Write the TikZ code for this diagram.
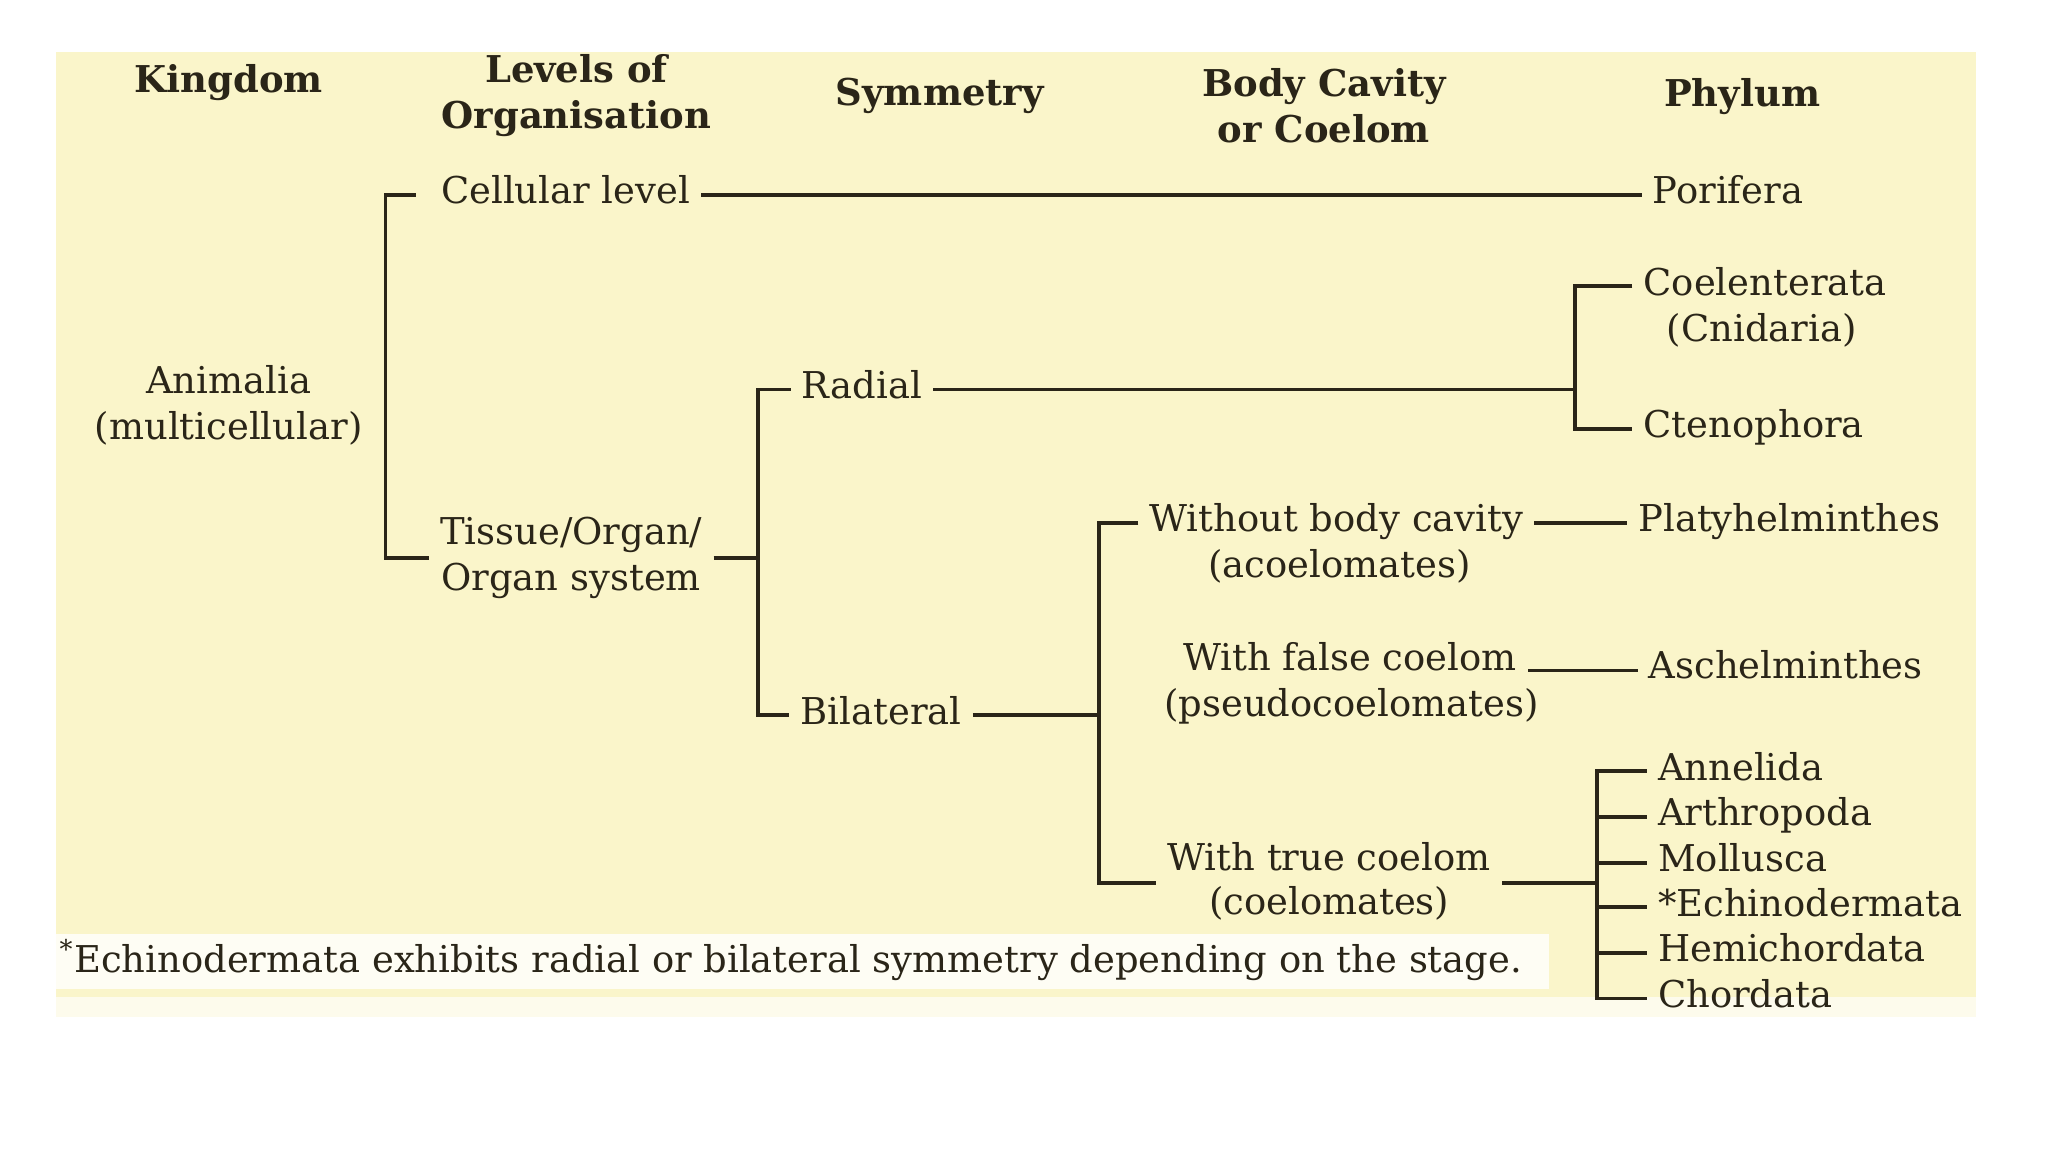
\documentclass[tikz,border=0pt]{standalone}
\usepackage{fontspec}
\setmainfont{DejaVu Serif}
\usetikzlibrary{positioning}

\definecolor{paper}{HTML}{FAF5CA}
\definecolor{notewhite}{HTML}{FEFDF4}
\definecolor{ink}{HTML}{2A2518}

\begin{document}
\begin{tikzpicture}[x=0.013069cm, y=-0.013069cm]

    % Define styles
    \tikzset{
        txt/.style={font=\fontsize{10.5}{13.1}\selectfont, text=ink, inner xsep=3pt, inner ysep=1pt,
                    text height=7.6pt, text depth=2.4pt},
        block/.style={font=\fontsize{10.5}{13.1}\selectfont, text=ink, inner xsep=3pt, inner ysep=1pt, align=center},
        head/.style={block, font=\fontsize{10.5}{13.1}\selectfont\bfseries},
        taxon/.style={txt, anchor=west},
        link/.style={draw=ink, line width=1.1pt}
    }

    % Page, paper and footnote band
    \useasboundingbox (0,0) rectangle (1567,881.4);
    \fill[paper] (43,40) rectangle (1512,763);
    \fill[paper!35] (43,763) rectangle (1512,778);
    \fill[notewhite] (43,715) rectangle (1185,757);

    % Define coordinates for the bracket spines
    \coordinate (king-spine) at (295,0);
    \coordinate (sym-spine) at (580,0);
    \coordinate (cav-spine) at (841,0);
    \coordinate (rad-spine) at (1205,0);
    \coordinate (coel-spine) at (1222,0);

    % Column heads
    \node[head] (h-kingdom) at (175,63) {Kingdom};
    \node[head] (h-levels) at (441,73) {Levels of\\Organisation};
    \node[head] (h-symmetry) at (719,73) {Symmetry};
    \node[head] (h-cavity) at (1013,81) {Body Cavity\\or Coelom};
    \node[head] (h-phylum) at (1333,74) {Phylum};

    % Kingdom and levels of organisation
    \node[block] (animalia) at (175,310) {Animalia\\(multicellular)};
    \node[taxon] (cellular) at (329,149) {Cellular level};
    \node[block] (tissue) at (437,427) {Tissue/Organ/\\Organ system};

    % Symmetry
    \node[taxon] (radial) at (605,298) {Radial};
    \node[taxon] (bilateral) at (604,547) {Bilateral};

    % Body cavity
    \node[taxon] (acoel) at (871,400) {Without body cavity};
    \node[txt] (acoel-note) at (1025,435) {(acoelomates)};
    \node[txt] (pseudo) at (1033,506) {With false coelom};
    \node[txt] (pseudo-note) at (1034,541) {(pseudocoelomates)};
    \node[txt] (coelo) at (1017,659) {With true coelom};
    \node[txt] (coelo-note) at (1017,693) {(coelomates)};

    % Phyla
    \node[taxon] (porifera) at (1256,149) {Porifera};
    \node[taxon] (coelenterata) at (1249,219) {Coelenterata};
    \node[txt] (cnidaria) at (1348,254) {(Cnidaria)};
    \node[taxon] (ctenophora) at (1249,328) {Ctenophora};
    \node[taxon] (platy) at (1245,400) {Platyhelminthes};
    \node[taxon] (aschel) at (1253,512) {Aschelminthes};
    \foreach \name/\phy/\y in {annelida/Annelida/590, arthropoda/Arthropoda/625,
            mollusca/Mollusca/660, echinodermata/*Echinodermata/694,
            hemichordata/Hemichordata/729, chordata/Chordata/764}
        \node[taxon] (\name) at (1260,\y) {\phy};

    % Footnote
    \node[txt, anchor=west, inner xsep=0pt] (note) at (45,737)
        {\textsuperscript{*}Echinodermata exhibits radial or bilateral symmetry depending on the stage.};

    % Kingdom bracket
    \draw[link, shorten <=4pt] (cellular.west) -- (cellular.west -| king-spine) -- (tissue.west -| king-spine) -- (tissue.west);
    \draw[link] (cellular.east) -- (porifera.west);

    % Symmetry bracket
    \draw[link] (tissue.east) -- (tissue.east -| sym-spine);
    \draw[link] (radial.west) -- (radial.west -| sym-spine) -- (bilateral.west -| sym-spine) -- (bilateral.west);

    % Radial phyla
    \draw[link] (radial.east) -- (radial.east -| rad-spine);
    \draw[link] (coelenterata.west) -- (coelenterata.west -| rad-spine) -- (ctenophora.west -| rad-spine) -- (ctenophora.west);

    % Body cavity bracket
    \draw[link] (bilateral.east) -- (bilateral.east -| cav-spine);
    \draw[link] (acoel.west) -- (acoel.west -| cav-spine) -- (coelo.south west -| cav-spine) -- (coelo.south west);
    \draw[link] (acoel.east) -- (platy.west);
    \draw[link] (pseudo.base east) -- (pseudo.base east -| aschel.west);
    \draw[link] (coelo.south east) -- (coelo.south east -| coel-spine);

    % True coelom phyla
    \draw[link] (annelida.west) -- (annelida.west -| coel-spine) -- (chordata.west -| coel-spine) -- (chordata.west);
    \foreach \name in {arthropoda, mollusca, echinodermata, hemichordata}
        \draw[link] (\name.west) -- (\name.west -| coel-spine);

\end{tikzpicture}
\end{document}
